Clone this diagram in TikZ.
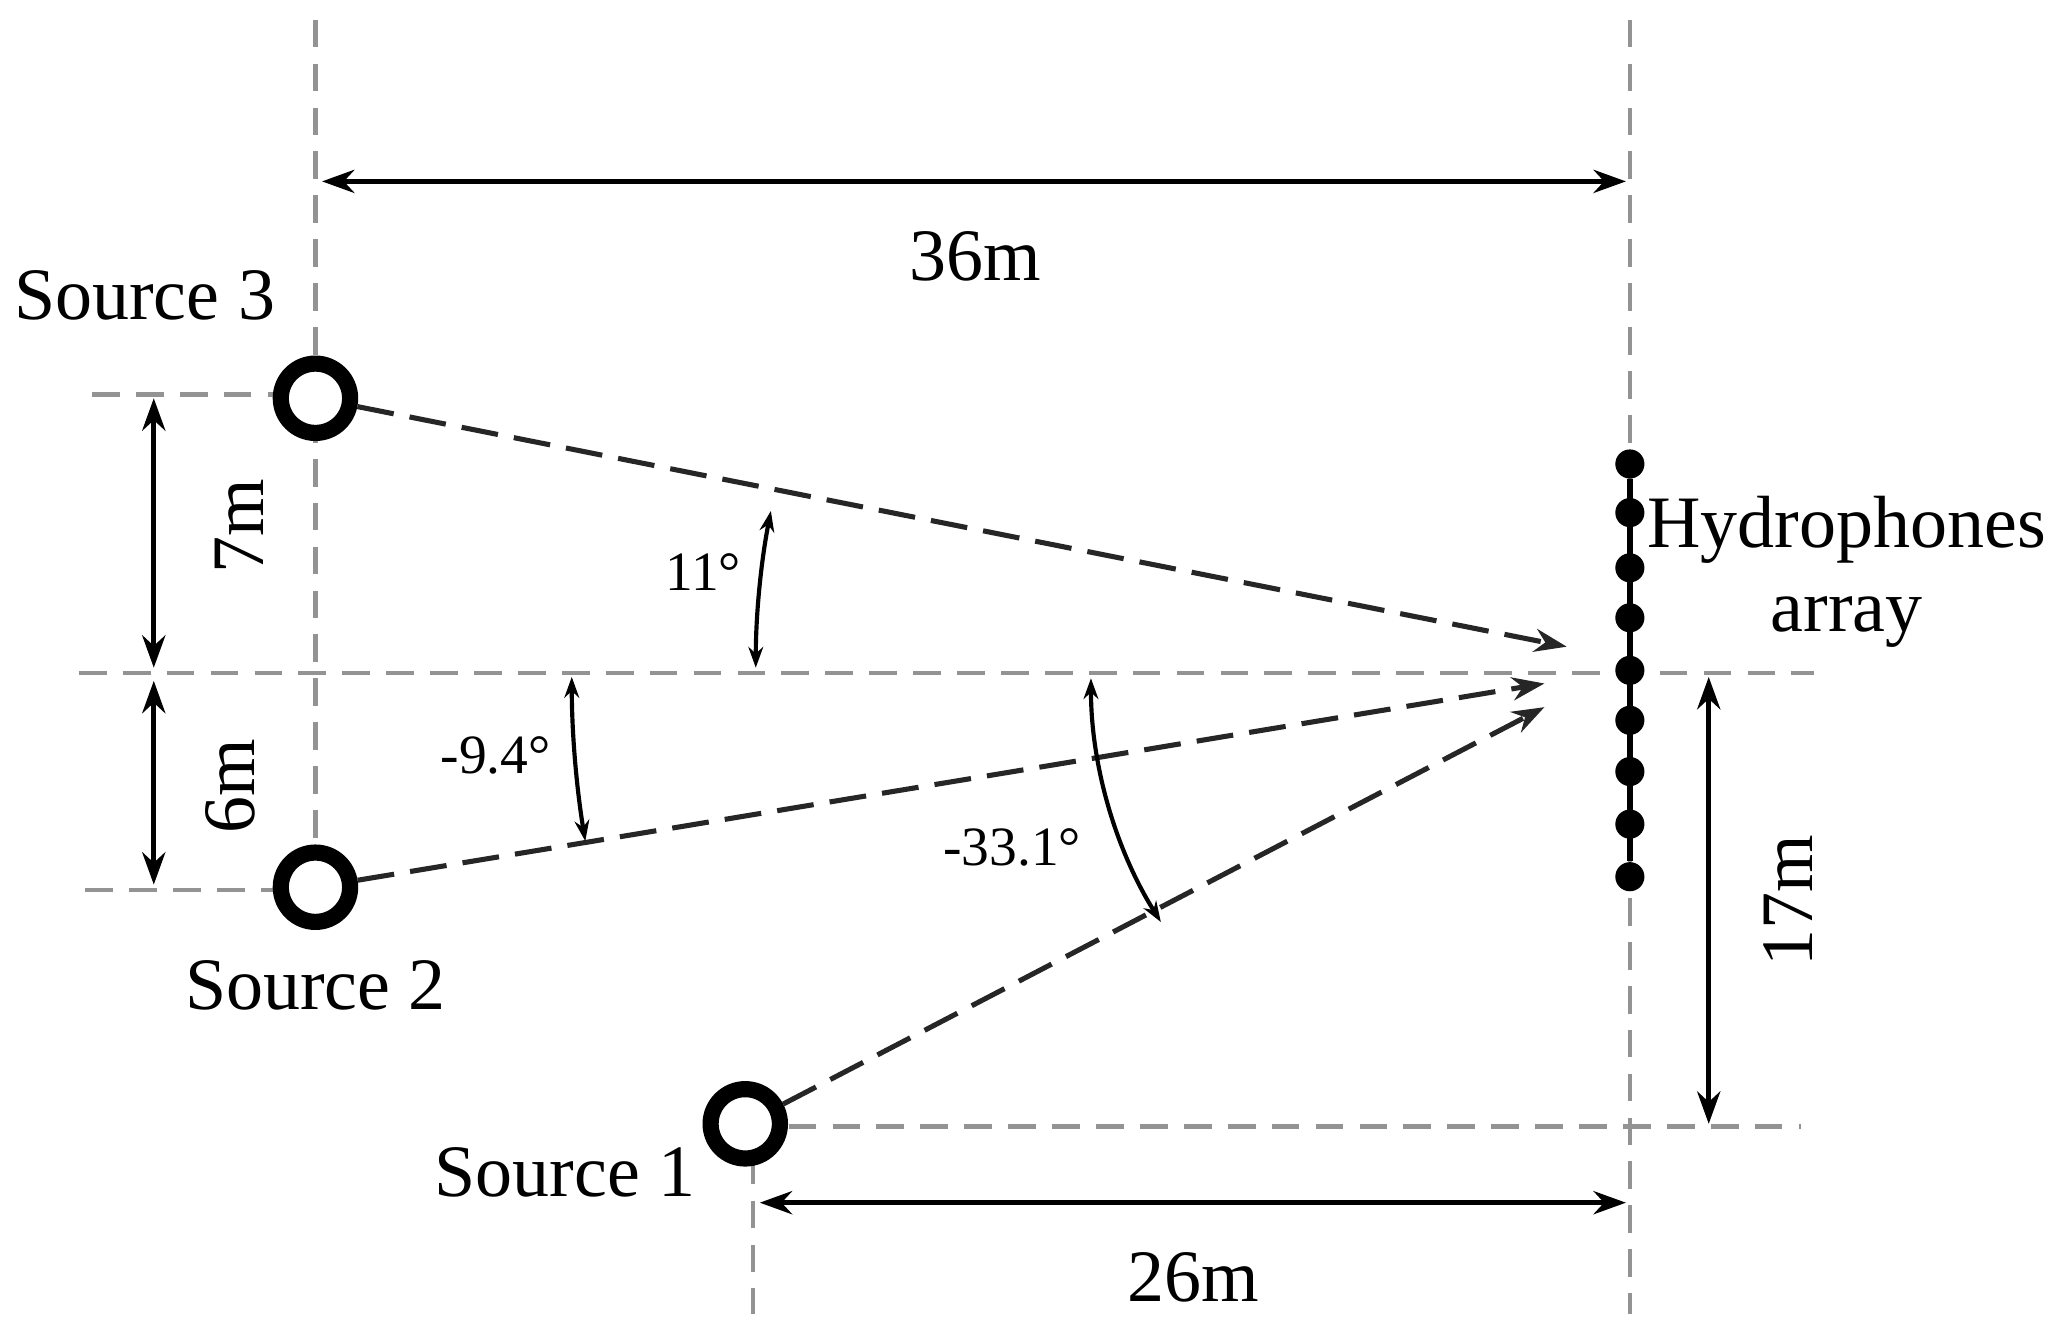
\documentclass[tikz,border=0pt]{standalone}
\usepackage{fontspec}
\setmainfont{Liberation Serif}
\usetikzlibrary{arrows.meta}
\begin{document}
\begin{tikzpicture}[x=0.01cm,y=-0.01cm,
  guide/.style={draw=gray!85,dash pattern=on 6pt off 3.5pt,line width=1pt},
  ray/.style={draw=black!85,dash pattern=on 8pt off 3.5pt,line width=1.1pt,-{Stealth[length=7pt,width=5pt]}},
  dim/.style={line width=1.1pt,{Stealth[length=7pt,width=5pt]}-{Stealth[length=7pt,width=5pt]}},
  ang/.style={line width=0.9pt,{Stealth[length=4.5pt,width=3.2pt]}-{Stealth[length=4.5pt,width=3.2pt]}},
  src/.style={circle,draw,line width=3.5pt,minimum size=15pt,inner sep=0pt,fill=white},
  hyd/.style={circle,fill,minimum size=6.3pt,inner sep=0pt},
  lbl/.style={font=\fontsize{16}{18}\selectfont},
  albl/.style={font=\fontsize{12}{14}\selectfont}]
\useasboundingbox (0,0) rectangle (1568,1018);
% guides
\draw[guide] (240,15) -- (240,700);
\draw[guide] (1240,15) -- (1240,1000);
\draw[guide] (573,880) -- (573,1000);
\draw[guide] (70,300) -- (210,300);
\draw[guide] (60,512) -- (1380,512);
\draw[guide] (65,677) -- (210,677);
\draw[guide] (600,857) -- (1370,857);
% hydrophones
\foreach \i/\y in {1/353,2/390,3/432,4/470,5/510,6/548,7/587,8/627,9/667} \node[hyd] (h\i) at (1240,\y) {};
\draw[line width=1.2pt] (h1) -- (h9);
% sources
\node[src] (s3) at (240,303) {};
\node[src] (s2) at (240,675) {};
\node[src] (s1) at (567,855) {};
\coordinate (t3) at (1192,492);
\coordinate (t2) at (1175,520);
\coordinate (t1) at (1175,538);
\draw[ray] (s3) -- (t3);
\draw[ray] (s2) -- (t2);
\draw[ray] (s1) -- (t1);
% dimensions
\coordinate (a36) at (245,138); \coordinate (b36) at (1237,138);
\draw[dim] (a36) -- (b36);
\node[lbl] (l36) at (742,195) {36m};
\coordinate (a7) at (117,303); \coordinate (b7) at (117,508);
\draw[dim] (a7) -- (b7);
\node[lbl,rotate=90] (l7) at (182,400) {7m};
\coordinate (a6) at (117,518); \coordinate (b6) at (117,673);
\draw[dim] (a6) -- (b6);
\node[lbl,rotate=90] (l6) at (175,598) {6m};
\coordinate (a17) at (1300,515); \coordinate (b17) at (1300,855);
\draw[dim] (a17) -- (b17);
\node[lbl,rotate=90] (l17) at (1360,685) {17m};
\coordinate (a26) at (578,915); \coordinate (b26) at (1237,915);
\draw[dim] (a26) -- (b26);
\node[lbl] (l26) at (908,972) {26m};
% angles
\draw[ang] (575,508) arc[start angle=180,end angle=191,radius=625];
\node[albl] (l11) at (535,435) {11°};
\draw[ang] (435,515) arc[start angle=180,end angle=170.6,radius=765];
\node[albl] (l94) at (377,575) {-9.4°};
\draw[ang] (830,516) arc[start angle=180,end angle=148,radius=350];
\node[albl] (l331) at (770,645) {-33.1°};
% labels
\node[lbl] (n3) at (110,225) {Source 3};
\node[lbl] (n2) at (240,750) {Source 2};
\node[lbl] (n1) at (430,892) {Source 1};
\node[lbl,align=center] (nh) at (1405,435) {Hydrophones\\array};
\end{tikzpicture}
\end{document}
